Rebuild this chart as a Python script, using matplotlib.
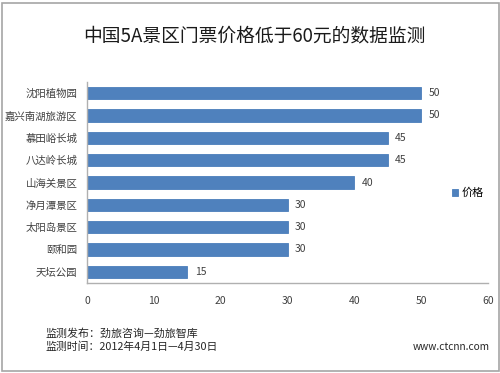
import matplotlib.pyplot as plt
from matplotlib.patches import Rectangle

plt.rcParams['font.family'] = ['Noto Sans CJK SC', 'DejaVu Sans']

names = ['沈阳植物园', '嘉兴南湖旅游区', '慕田峪长城', '八达岭长城', '山海关景区',
         '净月潭景区', '太阳岛景区', '颐和园', '天坛公园']
prices = [50, 50, 45, 45, 40, 30, 30, 30, 15]
xticks = [0, 10, 20, 30, 40, 50, 60]

W, H = 500, 373
fig = plt.figure(figsize=(5, 3.73), dpi=100)
fig.patch.set_facecolor('white')

# outer frame
fig.add_artist(Rectangle((1.5 / W, 2.5 / H), 497 / W, 368 / H, transform=fig.transFigure,
                         fill=False, edgecolor='#a6a6a6', linewidth=1.2))

ax = fig.add_axes([87 / W, 1 - 283 / H, 401 / W, 201 / H])
pos = list(range(len(names)))
bars = ax.barh(pos, prices, height=0.56, color='#4F81BD', edgecolor='#4a7ebb',
               linewidth=0.6, label='价格')
ax.set_ylim(len(names) - 0.5, -0.5)
ax.set_xlim(0, 60)
ax.set_xticks(xticks)
ax.set_yticks(pos)
ax.set_yticklabels(names, fontsize=7.3, color='#262626')
ax.tick_params(axis='both', length=0, colors='#404040', labelsize=7.5)
ax.tick_params(axis='x', pad=9)
ax.tick_params(axis='y', pad=7)
for s in ['top', 'right']:
    ax.spines[s].set_visible(False)
for s in ['left', 'bottom']:
    ax.spines[s].set_color('#b0b0b0')
    ax.spines[s].set_linewidth(1.0)

for b, v in zip(bars, prices):
    ax.text(v + 1.1, b.get_y() + b.get_height() / 2, str(v), va='center', ha='left',
            fontsize=7.5, color='#404040')

ax.legend(loc='center left', bbox_to_anchor=(446 / W, 1 - 193 / H),
          bbox_transform=fig.transFigure, frameon=False, fontsize=8,
          handlelength=0.6, handleheight=0.6, handletextpad=0.3, borderpad=0)

fig.text(254 / W, 1 - 36 / H, '中国5A景区门票价格低于60元的数据监测', ha='center', va='center',
         fontsize=13.5, color='#1a1a1a')
fig.text(45 / W, 1 - 333 / H, '监测发布：劲旅咨询—劲旅智库', ha='left', va='center',
         fontsize=7.9, color='#262626')
fig.text(45 / W, 1 - 347 / H, '监测时间：2012年4月1日—4月30日', ha='left', va='center',
         fontsize=7.8, color='#262626')
fig.text(490 / W, 1 - 347 / H, 'www.ctcnn.com', ha='right', va='center',
         fontsize=7.3, color='#262626')

fig.savefig('out.png', dpi=100)
